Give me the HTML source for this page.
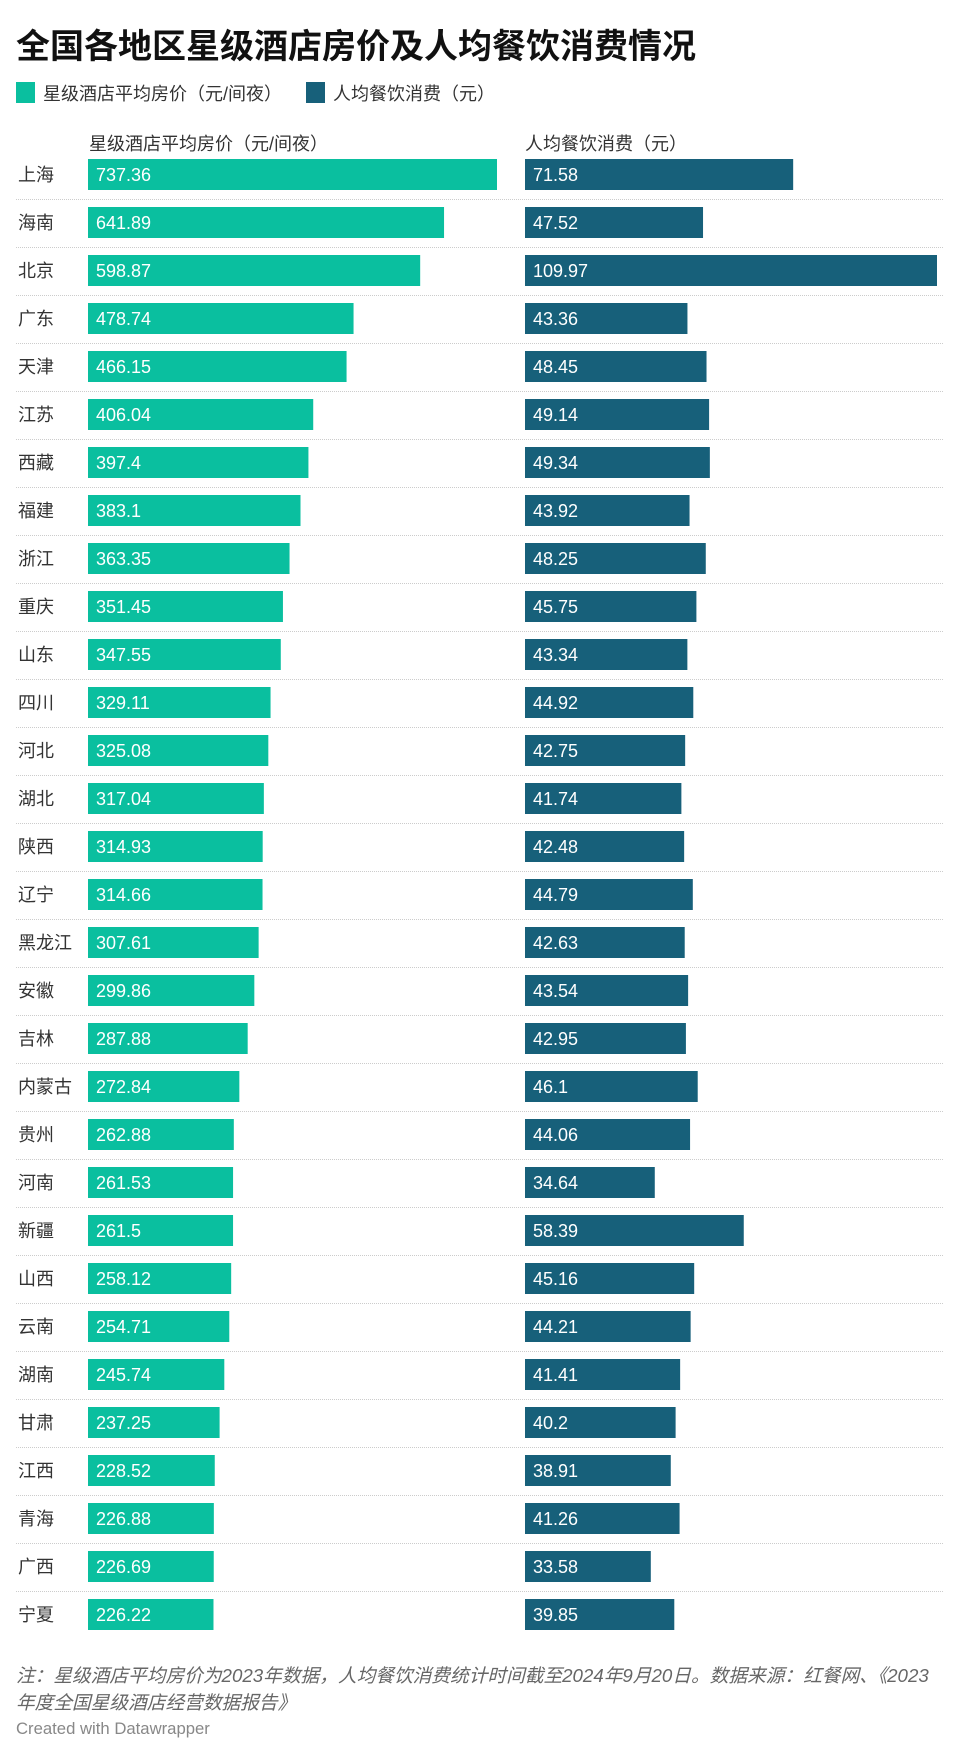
<!DOCTYPE html>
<html><head><meta charset="utf-8">
<style>
html,body{margin:0;padding:0;background:#fff;}
body{width:960px;height:1759px;position:relative;overflow:hidden;font-family:"Liberation Sans","Noto Sans CJK SC",sans-serif;color:#222;}
.abs{position:absolute;}
#title{left:16px;top:27px;font-size:34px;font-weight:bold;color:#111;white-space:nowrap;line-height:1.2;}
.lg-sq{width:19px;height:21px;top:82px;}
.lg-tx{top:80px;font-size:18px;color:#333;white-space:nowrap;}
.hdr{top:130px;font-size:18px;color:#333;white-space:nowrap;}
.note{left:16px;font-size:18.7px;font-style:italic;color:#666;white-space:nowrap;}
</style></head>
<body>
<div id="title" class="abs">全国各地区星级酒店房价及人均餐饮消费情况</div>
<div class="abs lg-sq" style="left:16px;background:#0abf9f"></div>
<div class="abs lg-tx" style="left:43px">星级酒店平均房价（元/间夜）</div>
<div class="abs lg-sq" style="left:306px;background:#17607a"></div>
<div class="abs lg-tx" style="left:333px">人均餐饮消费（元）</div>
<div class="abs hdr" style="left:89px">星级酒店平均房价（元/间夜）</div>
<div class="abs hdr" style="left:525px">人均餐饮消费（元）</div>
<svg id="chart" class="abs" style="left:0;top:0" width="960" height="1759"></svg>
<div class="abs note" style="top:1661px">注：星级酒店平均房价为2023年数据，人均餐饮消费统计时间截至2024年9月20日。数据来源：红餐网、《2023</div>
<div class="abs note" style="top:1688px">年度全国星级酒店经营数据报告》</div>
<div class="abs" style="left:16px;top:1719px;font-size:16.7px;color:#888">Created with Datawrapper</div>
<script>
const regions=["上海","海南","北京","广东","天津","江苏","西藏","福建","浙江","重庆","山东","四川","河北","湖北","陕西","辽宁","黑龙江","安徽","吉林","内蒙古","贵州","河南","新疆","山西","云南","湖南","甘肃","江西","青海","广西","宁夏"];
const hotelPrice=[737.36,641.89,598.87,478.74,466.15,406.04,397.4,383.1,363.35,351.45,347.55,329.11,325.08,317.04,314.93,314.66,307.61,299.86,287.88,272.84,262.88,261.53,261.5,258.12,254.71,245.74,237.25,228.52,226.88,226.69,226.22];
const diningSpend=[71.58,47.52,109.97,43.36,48.45,49.14,49.34,43.92,48.25,45.75,43.34,44.92,42.75,41.74,42.48,44.79,42.63,43.54,42.95,46.1,44.06,34.64,58.39,45.16,44.21,41.41,40.2,38.91,41.26,33.58,39.85];
const NS="http://www.w3.org/2000/svg";
const svg=document.getElementById('chart');
const xL=v=>v/737.36*409, xR=v=>v/109.97*412;
const y=i=>159+i*48;
function mk(t,a){const e=document.createElementNS(NS,t);for(const k in a)e.setAttribute(k,a[k]);svg.appendChild(e);return e;}
regions.forEach((r,i)=>{
  const t=mk('text',{x:18,y:y(i)+22,'font-size':18,fill:'#333'});t.textContent=r;
  
  
  const b1=mk('rect',{x:88,y:y(i),width:xL(hotelPrice[i]),height:31,fill:'#0abf9f'});
  
  
  const v1=mk('text',{x:96,y:y(i)+22,'font-size':18,fill:'#fff'});v1.textContent=hotelPrice[i];
  
  
  const b2=mk('rect',{x:525,y:y(i),width:xR(diningSpend[i]),height:31,fill:'#17607a'});
  
  
  const v2=mk('text',{x:533,y:y(i)+22,'font-size':18,fill:'#fff'});v2.textContent=diningSpend[i];
  
  
  if(i<regions.length-1){
    const l=mk('line',{x1:16,x2:943,y1:y(i)+40.5,y2:y(i)+40.5,stroke:'#ccc','stroke-width':1,'stroke-dasharray':'1 1'});
    
    
  }
});
</script>
</body></html>
